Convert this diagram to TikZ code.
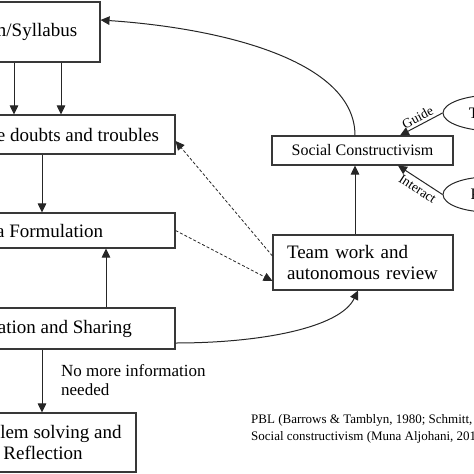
\documentclass[tikz,border=0pt]{standalone}
\usepackage{fontspec}
\setmainfont{Liberation Serif}
\usetikzlibrary{arrows.meta,shapes.geometric}
\begin{document}
\begin{tikzpicture}[x=1pt,y=-1pt,
  box/.style={draw=black!78, line width=1.1pt, rectangle, inner sep=0pt, font=\fontsize{19}{21.5}\selectfont},
  arr/.style={-{Triangle[length=9pt,width=8.5pt]}, line width=1pt, draw=black!85},
  dasharr/.style={arr, dash pattern=on 3pt off 2pt, line width=0.8pt},
  ell/.style={draw=black!85, ellipse, line width=1pt, inner sep=0pt, font=\fontsize{16}{18}\selectfont},
  lab/.style={font=\fontsize{13.5}{15}\selectfont, sloped, inner sep=2.5pt},
  note/.style={align=left, inner sep=0pt, anchor=north west}]
\useasboundingbox (0,0) rectangle (474,474);
% left column
\node[box, minimum width=204pt, minimum height=60pt] (b1) at (-2,32) {Curriculum/Syllabus};
\node[box, minimum width=228pt, minimum height=39pt] (b2) at (61,134.5) {Raise doubts and troubles};
\node[box, minimum width=275pt, minimum height=35pt] (b3) at (37.5,230.5) {Idea Formulation};
\node[box, minimum width=273pt, minimum height=41pt] (b4) at (38.5,328.5) {Information and Sharing};
\node[box, minimum width=186pt, minimum height=59pt, align=center] (b5) at (43,442.5) {Problem solving and\\Reflection};
% right column
\node[box, minimum width=181pt, minimum height=29pt, font=\fontsize{16}{18}\selectfont] (sc) at (362.5,150.5) {Social Constructivism};
\node[box, minimum width=180pt, minimum height=55pt, text width=152pt, align=left] (tw) at (363,262.5) {Team work and\\autonomous review};
\node[ell, minimum width=102pt, minimum height=36pt] (e1) at (494,113) {Teacher};
\node[ell, minimum width=90pt, minimum height=35pt] (e2) at (488,194.5) {Peers};
% texts
\node[note, font=\fontsize{17}{19}\selectfont] (nm) at (61,364.5) {No more information\\needed};
\node[note, font=\fontsize{13}{17}\selectfont] (ref) at (251,414) {PBL (Barrows \& Tamblyn, 1980; Schmitt, 1993)\\Social constructivism (Muna Aljohani, 2017)};
% connectors
\draw[arr] (b1.south -| 14,0) -- (b2.north -| 14,0);
\draw[arr] (b1.south -| 61,0) -- (b2.north -| 61,0);
\draw[arr] (b2.south -| 42,0) -- (b3.north -| 42,0);
\draw[arr] (b4.north -| 106,0) -- (b3.south -| 106,0);
\draw[arr] (b4.south -| 42,0) -- (b5.north -| 42,0);
\draw[arr] (tw.north -| 355,0) -- (sc.south -| 355,0);
\draw[arr] (sc.north -| 355,0) .. controls (355,60) and (220,28) .. (b1.east |- 0,20);
\draw[arr] (e1.west) -- node[lab, above] {Guide} (sc.north -| 400,0);
\draw[arr] (e2.west) -- node[lab, below, inner sep=4pt, pos=0.45] {Interact} (sc.south -| 398,0);
\draw[dasharr] (tw.west |- 0,256) -- (b2.east |- 0,141);
\draw[dasharr] (b3.east) -- (tw.west |- 0,281);
\draw[arr] (b4.east |- 0,343) .. controls (260,343) and (340,328) .. (tw.south -| 358,0);
\end{tikzpicture}
\end{document}
